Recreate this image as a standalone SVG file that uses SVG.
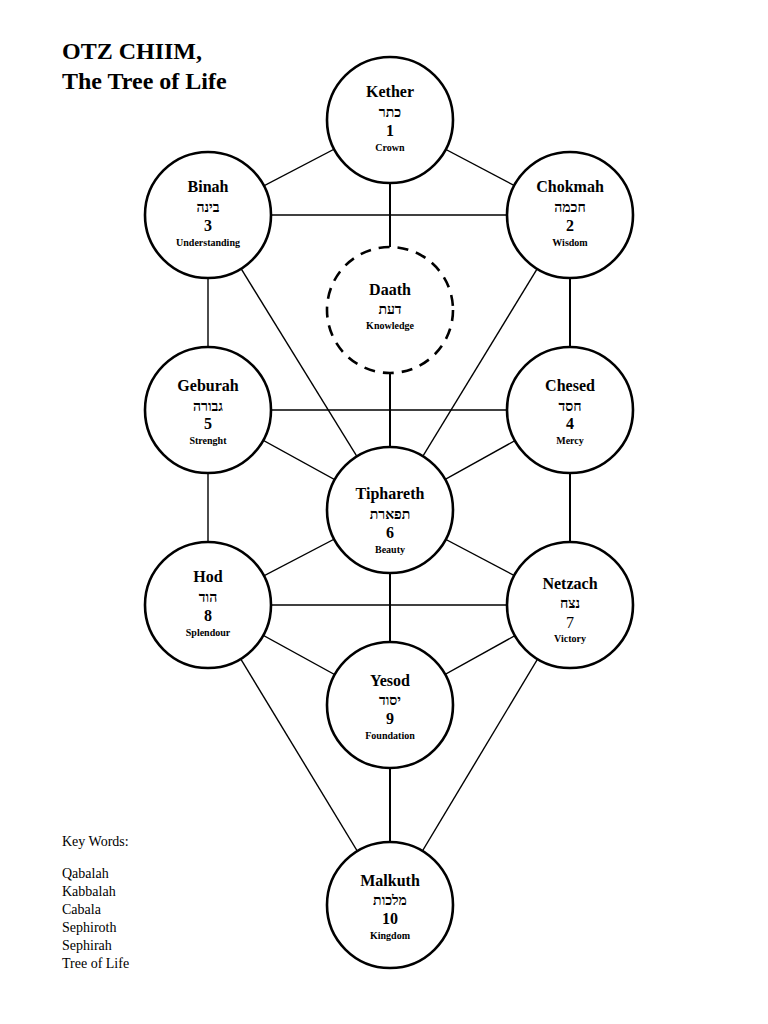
<svg xmlns="http://www.w3.org/2000/svg" width="768" height="1024" viewBox="0 0 768 1024">
<style>
text{font-family:"Liberation Serif","Times New Roman",serif;text-anchor:middle;fill:#000}
.n{font-size:16px;font-weight:bold}
.h{font-size:14px;font-weight:bold}
.k{font-size:10px;font-weight:bold}
circle{fill:#fff;stroke:#000;stroke-width:2.6}
.d{stroke-dasharray:11 8}
#c line{stroke:#000;stroke-width:1.4}
#c line.p{stroke-width:2}
.t{font-size:24px;font-weight:bold;text-anchor:start}
.w{font-size:14px;text-anchor:start}
</style>
<rect width="768" height="1024" fill="#fff"/>
<text class="t" x="62" y="59">OTZ CHIIM,</text>
<text class="t" x="62" y="89">The Tree of Life</text>
<g id="keywords">
<text class="w" x="62" y="846">Key Words:</text>
<text class="w" x="62" y="878">Qabalah</text>
<text class="w" x="62" y="896">Kabbalah</text>
<text class="w" x="62" y="914">Cabala</text>
<text class="w" x="62" y="932">Sephiroth</text>
<text class="w" x="62" y="950">Sephirah</text>
<text class="w" x="62" y="968">Tree of Life</text>
</g>
<g id="c">
<line x1="390" y1="120" x2="208" y2="215"/>
<line x1="390" y1="120" x2="570" y2="215"/>
<line class="p" x1="390" y1="120" x2="390" y2="310"/>
<line x1="208" y1="215" x2="570" y2="215"/>
<line x1="208" y1="215" x2="208" y2="410"/>
<line x1="208" y1="215" x2="390" y2="510"/>
<line class="p" x1="570" y1="215" x2="570" y2="410"/>
<line x1="570" y1="215" x2="390" y2="510"/>
<line class="p" x1="390" y1="310" x2="390" y2="510"/>
<line x1="208" y1="410" x2="570" y2="410"/>
<line x1="208" y1="410" x2="390" y2="510"/>
<line x1="570" y1="410" x2="390" y2="510"/>
<line x1="208" y1="410" x2="208" y2="605"/>
<line class="p" x1="570" y1="410" x2="570" y2="605"/>
<line x1="390" y1="510" x2="208" y2="605"/>
<line x1="390" y1="510" x2="570" y2="605"/>
<line class="p" x1="390" y1="510" x2="390" y2="705"/>
<line x1="208" y1="605" x2="570" y2="605"/>
<line x1="208" y1="605" x2="390" y2="705"/>
<line x1="570" y1="605" x2="390" y2="705"/>
<line x1="208" y1="605" x2="390" y2="905"/>
<line x1="570" y1="605" x2="390" y2="905"/>
<line class="p" x1="390" y1="705" x2="390" y2="905"/>
</g>
<g id="kether"><circle cx="390" cy="120" r="63"/><text class="n" x="390" y="97">Kether</text><text class="h" x="390" y="117">כתר</text><text class="n" x="390" y="136">1</text><text class="k" x="390" y="151">Crown</text></g>
<g id="binah"><circle cx="208" cy="215" r="63"/><text class="n" x="208" y="192">Binah</text><text class="h" x="208" y="212">בינה</text><text class="n" x="208" y="231">3</text><text class="k" x="208" y="246">Understanding</text></g>
<g id="chokmah"><circle cx="570" cy="215" r="63"/><text class="n" x="570" y="192">Chokmah</text><text class="h" x="570" y="212">חכמה</text><text class="n" x="570" y="231">2</text><text class="k" x="570" y="246">Wisdom</text></g>
<g id="daath"><circle class="d" cx="390" cy="310" r="63"/><text class="n" x="390" y="295">Daath</text><text class="h" x="390" y="314">דעת</text><text class="k" x="390" y="329">Knowledge</text></g>
<g id="geburah"><circle cx="208" cy="410" r="63"/><text class="n" x="208" y="391">Geburah</text><text class="h" x="208" y="411">גבורה</text><text class="n" x="208" y="429">5</text><text class="k" x="208" y="444">Strenght</text></g>
<g id="chesed"><circle cx="570" cy="410" r="63"/><text class="n" x="570" y="391">Chesed</text><text class="h" x="570" y="411">חסד</text><text class="n" x="570" y="429">4</text><text class="k" x="570" y="444">Mercy</text></g>
<g id="tiphareth"><circle cx="390" cy="510" r="63"/><text class="n" x="390" y="499">Tiphareth</text><text class="h" x="390" y="519">תפארת</text><text class="n" x="390" y="538">6</text><text class="k" x="390" y="553">Beauty</text></g>
<g id="hod"><circle cx="208" cy="605" r="63"/><text class="n" x="208" y="582">Hod</text><text class="h" x="208" y="602">הוד</text><text class="n" x="208" y="621">8</text><text class="k" x="208" y="636">Splendour</text></g>
<g id="netzach"><circle cx="570" cy="605" r="63"/><text class="n" x="570" y="589">Netzach</text><text class="h" x="570" y="608">נצח</text><text x="570" y="628" style="font-size:16px">7</text><text class="k" x="570" y="642">Victory</text></g>
<g id="yesod"><circle cx="390" cy="705" r="63"/><text class="n" x="390" y="686">Yesod</text><text class="h" x="390" y="705">יסוד</text><text class="n" x="390" y="724">9</text><text class="k" x="390" y="739">Foundation</text></g>
<g id="malkuth"><circle cx="390" cy="905" r="63"/><text class="n" x="390" y="886">Malkuth</text><text class="h" x="390" y="905">מלכות</text><text class="n" x="390" y="924">10</text><text class="k" x="390" y="939">Kingdom</text></g>
</svg>
